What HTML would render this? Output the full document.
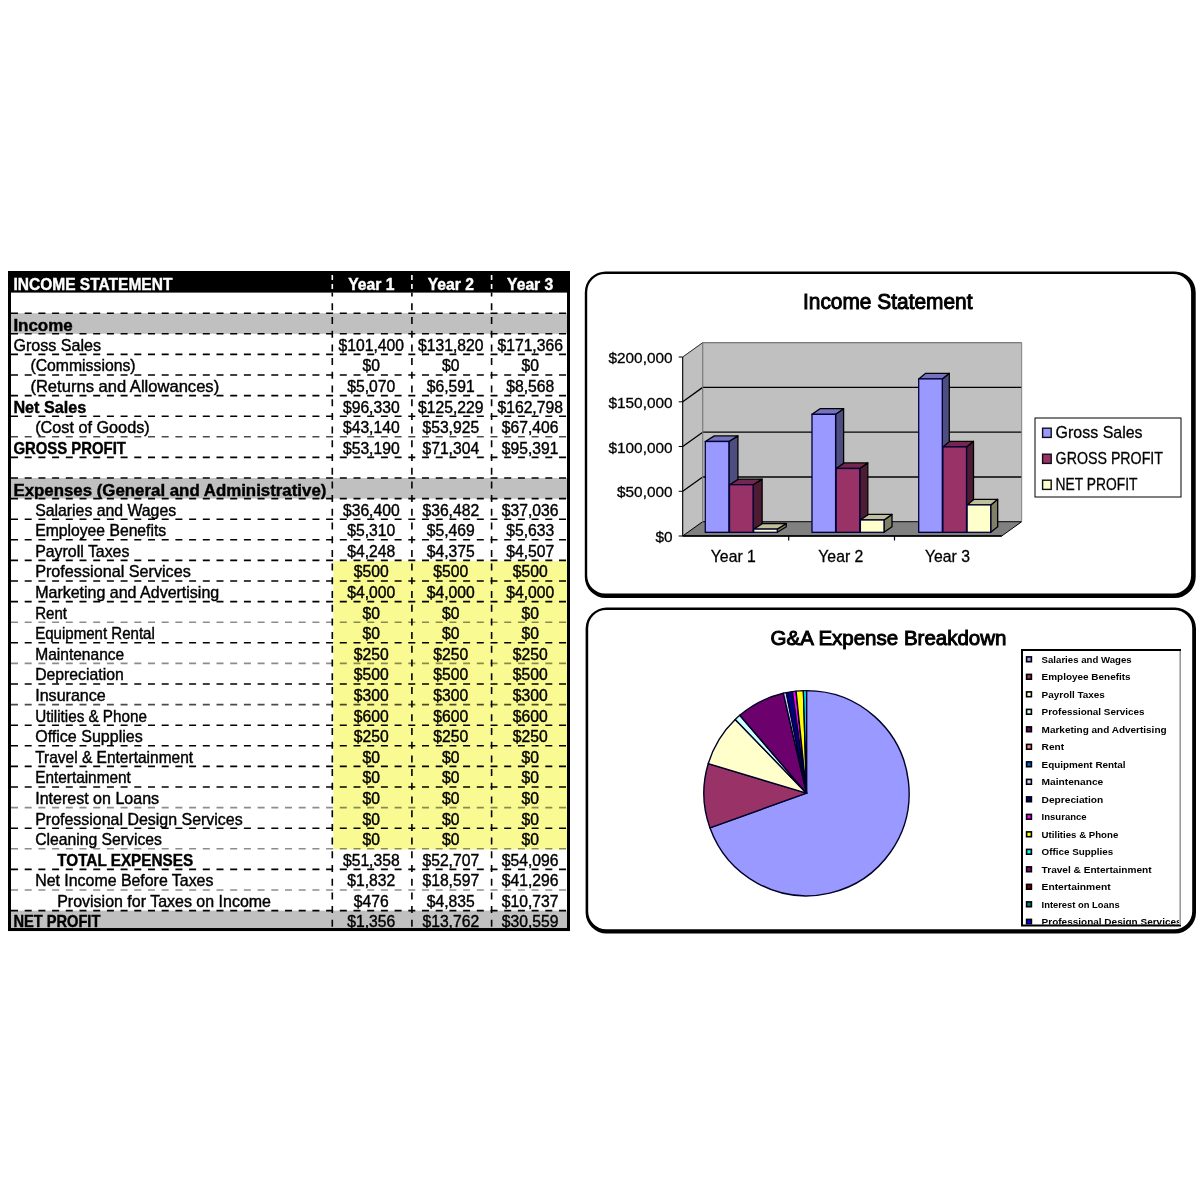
<!DOCTYPE html>
<html><head><meta charset="utf-8"><title>Income Statement</title>
<style>
html,body{margin:0;padding:0;background:#fff;}
svg{display:block;font-family:'Liberation Sans', Arial, sans-serif;}
</style></head><body>
<svg width="1200" height="1200" viewBox="0 0 1200 1200" font-family="Liberation Sans, Arial, sans-serif">
<defs><filter id="soft" x="0" y="0" width="1200" height="1200" filterUnits="userSpaceOnUse"><feGaussianBlur stdDeviation="0.55"/></filter></defs>
<rect x="0" y="0" width="1200" height="1200" fill="#fff"/>
<g filter="url(#soft)">
<rect x="8" y="271" width="562" height="660" fill="#fff"/>
<rect x="8" y="271" width="562" height="21.6" fill="#000"/>
<rect x="8" y="313.2" width="562" height="20.6" fill="#c0c0c0"/>
<rect x="8" y="478.0" width="562" height="20.6" fill="#c0c0c0"/>
<rect x="333.3" y="561.0" width="233.7" height="288.4" fill="#fafa92"/>
<rect x="8" y="910.6" width="562" height="20.6" fill="#c0c0c0"/>
<line x1="11" y1="313.2" x2="567" y2="313.2" stroke="#000" stroke-width="1.6" stroke-dasharray="7 6.7" stroke-opacity="1"/>
<line x1="11" y1="333.8" x2="567" y2="333.8" stroke="#000" stroke-width="1.6" stroke-dasharray="7 6.7" stroke-opacity="1"/>
<line x1="11" y1="354.4" x2="567" y2="354.4" stroke="#000" stroke-width="1.6" stroke-dasharray="7 6.7" stroke-opacity="1"/>
<line x1="11" y1="375.0" x2="567" y2="375.0" stroke="#000" stroke-width="1.6" stroke-dasharray="7 6.7" stroke-opacity="1"/>
<line x1="11" y1="395.6" x2="567" y2="395.6" stroke="#000" stroke-width="1.6" stroke-dasharray="7 6.7" stroke-opacity="1"/>
<line x1="11" y1="416.2" x2="567" y2="416.2" stroke="#000" stroke-width="1.6" stroke-dasharray="7 6.7" stroke-opacity="1"/>
<line x1="11" y1="436.8" x2="567" y2="436.8" stroke="#000" stroke-width="1.6" stroke-dasharray="7 6.7" stroke-opacity="0.7"/>
<line x1="11" y1="457.4" x2="567" y2="457.4" stroke="#000" stroke-width="1.6" stroke-dasharray="7 6.7" stroke-opacity="1"/>
<line x1="11" y1="478.0" x2="567" y2="478.0" stroke="#000" stroke-width="1.6" stroke-dasharray="7 6.7" stroke-opacity="1"/>
<line x1="11" y1="498.6" x2="567" y2="498.6" stroke="#000" stroke-width="1.6" stroke-dasharray="7 6.7" stroke-opacity="1"/>
<line x1="11" y1="519.2" x2="567" y2="519.2" stroke="#000" stroke-width="1.6" stroke-dasharray="7 6.7" stroke-opacity="1"/>
<line x1="11" y1="539.8" x2="567" y2="539.8" stroke="#000" stroke-width="1.6" stroke-dasharray="7 6.7" stroke-opacity="1"/>
<line x1="11" y1="560.4" x2="567" y2="560.4" stroke="#000" stroke-width="1.6" stroke-dasharray="7 6.7" stroke-opacity="1"/>
<line x1="11" y1="581.0" x2="567" y2="581.0" stroke="#000" stroke-width="1.6" stroke-dasharray="7 6.7" stroke-opacity="1"/>
<line x1="11" y1="601.6" x2="567" y2="601.6" stroke="#000" stroke-width="1.6" stroke-dasharray="7 6.7" stroke-opacity="1"/>
<line x1="11" y1="622.2" x2="567" y2="622.2" stroke="#000" stroke-width="1.6" stroke-dasharray="7 6.7" stroke-opacity="0.45"/>
<line x1="11" y1="642.8" x2="567" y2="642.8" stroke="#000" stroke-width="1.6" stroke-dasharray="7 6.7" stroke-opacity="1"/>
<line x1="11" y1="663.4" x2="567" y2="663.4" stroke="#000" stroke-width="1.6" stroke-dasharray="7 6.7" stroke-opacity="0.45"/>
<line x1="11" y1="684.0" x2="567" y2="684.0" stroke="#000" stroke-width="1.6" stroke-dasharray="7 6.7" stroke-opacity="1"/>
<line x1="11" y1="704.6" x2="567" y2="704.6" stroke="#000" stroke-width="1.6" stroke-dasharray="7 6.7" stroke-opacity="0.7"/>
<line x1="11" y1="725.2" x2="567" y2="725.2" stroke="#000" stroke-width="1.6" stroke-dasharray="7 6.7" stroke-opacity="1"/>
<line x1="11" y1="745.8" x2="567" y2="745.8" stroke="#000" stroke-width="1.6" stroke-dasharray="7 6.7" stroke-opacity="1"/>
<line x1="11" y1="766.4" x2="567" y2="766.4" stroke="#000" stroke-width="1.6" stroke-dasharray="7 6.7" stroke-opacity="1"/>
<line x1="11" y1="787.0" x2="567" y2="787.0" stroke="#000" stroke-width="1.6" stroke-dasharray="7 6.7" stroke-opacity="1"/>
<line x1="11" y1="807.6" x2="567" y2="807.6" stroke="#000" stroke-width="1.6" stroke-dasharray="7 6.7" stroke-opacity="0.45"/>
<line x1="11" y1="828.2" x2="567" y2="828.2" stroke="#000" stroke-width="1.6" stroke-dasharray="7 6.7" stroke-opacity="1"/>
<line x1="11" y1="848.8" x2="567" y2="848.8" stroke="#000" stroke-width="1.6" stroke-dasharray="7 6.7" stroke-opacity="0.45"/>
<line x1="11" y1="869.4" x2="567" y2="869.4" stroke="#000" stroke-width="1.6" stroke-dasharray="7 6.7" stroke-opacity="1"/>
<line x1="11" y1="890.0" x2="567" y2="890.0" stroke="#000" stroke-width="1.6" stroke-dasharray="7 6.7" stroke-opacity="0.45"/>
<line x1="11" y1="910.6" x2="567" y2="910.6" stroke="#000" stroke-width="1.6" stroke-dasharray="7 6.7" stroke-opacity="1"/>
<line x1="332.3" y1="292.6" x2="332.3" y2="929" stroke="#000" stroke-width="1.6" stroke-dasharray="7 6.7" stroke-dashoffset="3"/>
<line x1="332.3" y1="275" x2="332.3" y2="290.6" stroke="#fff" stroke-width="1.6" stroke-dasharray="5 4"/>
<line x1="411.9" y1="292.6" x2="411.9" y2="929" stroke="#000" stroke-width="1.6" stroke-dasharray="7 6.7" stroke-dashoffset="3"/>
<line x1="411.9" y1="275" x2="411.9" y2="290.6" stroke="#fff" stroke-width="1.6" stroke-dasharray="5 4"/>
<line x1="491.6" y1="292.6" x2="491.6" y2="929" stroke="#000" stroke-width="1.6" stroke-dasharray="7 6.7" stroke-dashoffset="3"/>
<line x1="491.6" y1="275" x2="491.6" y2="290.6" stroke="#fff" stroke-width="1.6" stroke-dasharray="5 4"/>
<rect x="9.5" y="272.5" width="559" height="657" fill="none" stroke="#000" stroke-width="3"/>
<text x="13.4" y="290.0" font-size="15.7" font-weight="bold" fill="#fff" stroke="#fff" stroke-width="0.4" textLength="159.0" lengthAdjust="spacingAndGlyphs">INCOME STATEMENT</text>
<text x="371.3" y="290.0" font-size="15.7" font-weight="bold" fill="#fff" stroke="#fff" stroke-width="0.4" text-anchor="middle">Year 1</text>
<text x="450.8" y="290.0" font-size="15.7" font-weight="bold" fill="#fff" stroke="#fff" stroke-width="0.4" text-anchor="middle">Year 2</text>
<text x="530.2" y="290.0" font-size="15.7" font-weight="bold" fill="#fff" stroke="#fff" stroke-width="0.4" text-anchor="middle">Year 3</text>
<text x="13.4" y="330.8" font-size="15.7" font-weight="bold" fill="#000" stroke="#000" stroke-width="0.4" textLength="59.3" lengthAdjust="spacingAndGlyphs">Income</text>
<text x="13.4" y="350.8" font-size="15.7" fill="#000" stroke="#000" stroke-width="0.4" textLength="87.6" lengthAdjust="spacingAndGlyphs">Gross Sales</text>
<text x="371.3" y="350.8" font-size="15.7" fill="#000" stroke="#000" stroke-width="0.4" text-anchor="middle">$101,400</text>
<text x="450.8" y="350.8" font-size="15.7" fill="#000" stroke="#000" stroke-width="0.4" text-anchor="middle">$131,820</text>
<text x="530.2" y="350.8" font-size="15.7" fill="#000" stroke="#000" stroke-width="0.4" text-anchor="middle">$171,366</text>
<text x="30.4" y="371.4" font-size="15.7" fill="#000" stroke="#000" stroke-width="0.4" textLength="105.2" lengthAdjust="spacingAndGlyphs">(Commissions)</text>
<text x="371.3" y="371.4" font-size="15.7" fill="#000" stroke="#000" stroke-width="0.4" text-anchor="middle">$0</text>
<text x="450.8" y="371.4" font-size="15.7" fill="#000" stroke="#000" stroke-width="0.4" text-anchor="middle">$0</text>
<text x="530.2" y="371.4" font-size="15.7" fill="#000" stroke="#000" stroke-width="0.4" text-anchor="middle">$0</text>
<text x="30.4" y="392.0" font-size="15.7" fill="#000" stroke="#000" stroke-width="0.4" textLength="188.8" lengthAdjust="spacingAndGlyphs">(Returns and Allowances)</text>
<text x="371.3" y="392.0" font-size="15.7" fill="#000" stroke="#000" stroke-width="0.4" text-anchor="middle">$5,070</text>
<text x="450.8" y="392.0" font-size="15.7" fill="#000" stroke="#000" stroke-width="0.4" text-anchor="middle">$6,591</text>
<text x="530.2" y="392.0" font-size="15.7" fill="#000" stroke="#000" stroke-width="0.4" text-anchor="middle">$8,568</text>
<text x="13.4" y="412.6" font-size="15.7" font-weight="bold" fill="#000" stroke="#000" stroke-width="0.4" textLength="72.9" lengthAdjust="spacingAndGlyphs">Net Sales</text>
<text x="371.3" y="412.6" font-size="15.7" fill="#000" stroke="#000" stroke-width="0.4" text-anchor="middle">$96,330</text>
<text x="450.8" y="412.6" font-size="15.7" fill="#000" stroke="#000" stroke-width="0.4" text-anchor="middle">$125,229</text>
<text x="530.2" y="412.6" font-size="15.7" fill="#000" stroke="#000" stroke-width="0.4" text-anchor="middle">$162,798</text>
<text x="35.2" y="433.2" font-size="15.7" fill="#000" stroke="#000" stroke-width="0.4" textLength="114.5" lengthAdjust="spacingAndGlyphs">(Cost of Goods)</text>
<text x="371.3" y="433.2" font-size="15.7" fill="#000" stroke="#000" stroke-width="0.4" text-anchor="middle">$43,140</text>
<text x="450.8" y="433.2" font-size="15.7" fill="#000" stroke="#000" stroke-width="0.4" text-anchor="middle">$53,925</text>
<text x="530.2" y="433.2" font-size="15.7" fill="#000" stroke="#000" stroke-width="0.4" text-anchor="middle">$67,406</text>
<text x="13.4" y="453.8" font-size="15.7" font-weight="bold" fill="#000" stroke="#000" stroke-width="0.4" textLength="112.5" lengthAdjust="spacingAndGlyphs">GROSS PROFIT</text>
<text x="371.3" y="453.8" font-size="15.7" fill="#000" stroke="#000" stroke-width="0.4" text-anchor="middle">$53,190</text>
<text x="450.8" y="453.8" font-size="15.7" fill="#000" stroke="#000" stroke-width="0.4" text-anchor="middle">$71,304</text>
<text x="530.2" y="453.8" font-size="15.7" fill="#000" stroke="#000" stroke-width="0.4" text-anchor="middle">$95,391</text>
<text x="13.4" y="495.6" font-size="15.7" font-weight="bold" fill="#000" stroke="#000" stroke-width="0.4" textLength="313.0" lengthAdjust="spacingAndGlyphs">Expenses (General and Administrative)</text>
<text x="35.2" y="515.6" font-size="15.7" fill="#000" stroke="#000" stroke-width="0.4" textLength="140.9" lengthAdjust="spacingAndGlyphs">Salaries and Wages</text>
<text x="371.3" y="515.6" font-size="15.7" fill="#000" stroke="#000" stroke-width="0.4" text-anchor="middle">$36,400</text>
<text x="450.8" y="515.6" font-size="15.7" fill="#000" stroke="#000" stroke-width="0.4" text-anchor="middle">$36,482</text>
<text x="530.2" y="515.6" font-size="15.7" fill="#000" stroke="#000" stroke-width="0.4" text-anchor="middle">$37,036</text>
<text x="35.2" y="536.2" font-size="15.7" fill="#000" stroke="#000" stroke-width="0.4" textLength="131.0" lengthAdjust="spacingAndGlyphs">Employee Benefits</text>
<text x="371.3" y="536.2" font-size="15.7" fill="#000" stroke="#000" stroke-width="0.4" text-anchor="middle">$5,310</text>
<text x="450.8" y="536.2" font-size="15.7" fill="#000" stroke="#000" stroke-width="0.4" text-anchor="middle">$5,469</text>
<text x="530.2" y="536.2" font-size="15.7" fill="#000" stroke="#000" stroke-width="0.4" text-anchor="middle">$5,633</text>
<text x="35.2" y="556.8" font-size="15.7" fill="#000" stroke="#000" stroke-width="0.4" textLength="94.2" lengthAdjust="spacingAndGlyphs">Payroll Taxes</text>
<text x="371.3" y="556.8" font-size="15.7" fill="#000" stroke="#000" stroke-width="0.4" text-anchor="middle">$4,248</text>
<text x="450.8" y="556.8" font-size="15.7" fill="#000" stroke="#000" stroke-width="0.4" text-anchor="middle">$4,375</text>
<text x="530.2" y="556.8" font-size="15.7" fill="#000" stroke="#000" stroke-width="0.4" text-anchor="middle">$4,507</text>
<text x="35.2" y="577.4" font-size="15.7" fill="#000" stroke="#000" stroke-width="0.4" textLength="155.6" lengthAdjust="spacingAndGlyphs">Professional Services</text>
<text x="371.3" y="577.4" font-size="15.7" fill="#000" stroke="#000" stroke-width="0.4" text-anchor="middle">$500</text>
<text x="450.8" y="577.4" font-size="15.7" fill="#000" stroke="#000" stroke-width="0.4" text-anchor="middle">$500</text>
<text x="530.2" y="577.4" font-size="15.7" fill="#000" stroke="#000" stroke-width="0.4" text-anchor="middle">$500</text>
<text x="35.2" y="598.0" font-size="15.7" fill="#000" stroke="#000" stroke-width="0.4" textLength="184.0" lengthAdjust="spacingAndGlyphs">Marketing and Advertising</text>
<text x="371.3" y="598.0" font-size="15.7" fill="#000" stroke="#000" stroke-width="0.4" text-anchor="middle">$4,000</text>
<text x="450.8" y="598.0" font-size="15.7" fill="#000" stroke="#000" stroke-width="0.4" text-anchor="middle">$4,000</text>
<text x="530.2" y="598.0" font-size="15.7" fill="#000" stroke="#000" stroke-width="0.4" text-anchor="middle">$4,000</text>
<text x="35.2" y="618.6" font-size="15.7" fill="#000" stroke="#000" stroke-width="0.4" textLength="31.8" lengthAdjust="spacingAndGlyphs">Rent</text>
<text x="371.3" y="618.6" font-size="15.7" fill="#000" stroke="#000" stroke-width="0.4" text-anchor="middle">$0</text>
<text x="450.8" y="618.6" font-size="15.7" fill="#000" stroke="#000" stroke-width="0.4" text-anchor="middle">$0</text>
<text x="530.2" y="618.6" font-size="15.7" fill="#000" stroke="#000" stroke-width="0.4" text-anchor="middle">$0</text>
<text x="35.2" y="639.2" font-size="15.7" fill="#000" stroke="#000" stroke-width="0.4" textLength="119.6" lengthAdjust="spacingAndGlyphs">Equipment Rental</text>
<text x="371.3" y="639.2" font-size="15.7" fill="#000" stroke="#000" stroke-width="0.4" text-anchor="middle">$0</text>
<text x="450.8" y="639.2" font-size="15.7" fill="#000" stroke="#000" stroke-width="0.4" text-anchor="middle">$0</text>
<text x="530.2" y="639.2" font-size="15.7" fill="#000" stroke="#000" stroke-width="0.4" text-anchor="middle">$0</text>
<text x="35.2" y="659.8" font-size="15.7" fill="#000" stroke="#000" stroke-width="0.4" textLength="89.0" lengthAdjust="spacingAndGlyphs">Maintenance</text>
<text x="371.3" y="659.8" font-size="15.7" fill="#000" stroke="#000" stroke-width="0.4" text-anchor="middle">$250</text>
<text x="450.8" y="659.8" font-size="15.7" fill="#000" stroke="#000" stroke-width="0.4" text-anchor="middle">$250</text>
<text x="530.2" y="659.8" font-size="15.7" fill="#000" stroke="#000" stroke-width="0.4" text-anchor="middle">$250</text>
<text x="35.2" y="680.4" font-size="15.7" fill="#000" stroke="#000" stroke-width="0.4" textLength="88.5" lengthAdjust="spacingAndGlyphs">Depreciation</text>
<text x="371.3" y="680.4" font-size="15.7" fill="#000" stroke="#000" stroke-width="0.4" text-anchor="middle">$500</text>
<text x="450.8" y="680.4" font-size="15.7" fill="#000" stroke="#000" stroke-width="0.4" text-anchor="middle">$500</text>
<text x="530.2" y="680.4" font-size="15.7" fill="#000" stroke="#000" stroke-width="0.4" text-anchor="middle">$500</text>
<text x="35.2" y="701.0" font-size="15.7" fill="#000" stroke="#000" stroke-width="0.4" textLength="70.6" lengthAdjust="spacingAndGlyphs">Insurance</text>
<text x="371.3" y="701.0" font-size="15.7" fill="#000" stroke="#000" stroke-width="0.4" text-anchor="middle">$300</text>
<text x="450.8" y="701.0" font-size="15.7" fill="#000" stroke="#000" stroke-width="0.4" text-anchor="middle">$300</text>
<text x="530.2" y="701.0" font-size="15.7" fill="#000" stroke="#000" stroke-width="0.4" text-anchor="middle">$300</text>
<text x="35.2" y="721.6" font-size="15.7" fill="#000" stroke="#000" stroke-width="0.4" textLength="111.7" lengthAdjust="spacingAndGlyphs">Utilities &amp; Phone</text>
<text x="371.3" y="721.6" font-size="15.7" fill="#000" stroke="#000" stroke-width="0.4" text-anchor="middle">$600</text>
<text x="450.8" y="721.6" font-size="15.7" fill="#000" stroke="#000" stroke-width="0.4" text-anchor="middle">$600</text>
<text x="530.2" y="721.6" font-size="15.7" fill="#000" stroke="#000" stroke-width="0.4" text-anchor="middle">$600</text>
<text x="35.2" y="742.2" font-size="15.7" fill="#000" stroke="#000" stroke-width="0.4" textLength="107.5" lengthAdjust="spacingAndGlyphs">Office Supplies</text>
<text x="371.3" y="742.2" font-size="15.7" fill="#000" stroke="#000" stroke-width="0.4" text-anchor="middle">$250</text>
<text x="450.8" y="742.2" font-size="15.7" fill="#000" stroke="#000" stroke-width="0.4" text-anchor="middle">$250</text>
<text x="530.2" y="742.2" font-size="15.7" fill="#000" stroke="#000" stroke-width="0.4" text-anchor="middle">$250</text>
<text x="35.2" y="762.8" font-size="15.7" fill="#000" stroke="#000" stroke-width="0.4" textLength="157.9" lengthAdjust="spacingAndGlyphs">Travel &amp; Entertainment</text>
<text x="371.3" y="762.8" font-size="15.7" fill="#000" stroke="#000" stroke-width="0.4" text-anchor="middle">$0</text>
<text x="450.8" y="762.8" font-size="15.7" fill="#000" stroke="#000" stroke-width="0.4" text-anchor="middle">$0</text>
<text x="530.2" y="762.8" font-size="15.7" fill="#000" stroke="#000" stroke-width="0.4" text-anchor="middle">$0</text>
<text x="35.2" y="783.4" font-size="15.7" fill="#000" stroke="#000" stroke-width="0.4" textLength="95.6" lengthAdjust="spacingAndGlyphs">Entertainment</text>
<text x="371.3" y="783.4" font-size="15.7" fill="#000" stroke="#000" stroke-width="0.4" text-anchor="middle">$0</text>
<text x="450.8" y="783.4" font-size="15.7" fill="#000" stroke="#000" stroke-width="0.4" text-anchor="middle">$0</text>
<text x="530.2" y="783.4" font-size="15.7" fill="#000" stroke="#000" stroke-width="0.4" text-anchor="middle">$0</text>
<text x="35.2" y="804.0" font-size="15.7" fill="#000" stroke="#000" stroke-width="0.4" textLength="123.9" lengthAdjust="spacingAndGlyphs">Interest on Loans</text>
<text x="371.3" y="804.0" font-size="15.7" fill="#000" stroke="#000" stroke-width="0.4" text-anchor="middle">$0</text>
<text x="450.8" y="804.0" font-size="15.7" fill="#000" stroke="#000" stroke-width="0.4" text-anchor="middle">$0</text>
<text x="530.2" y="804.0" font-size="15.7" fill="#000" stroke="#000" stroke-width="0.4" text-anchor="middle">$0</text>
<text x="35.2" y="824.6" font-size="15.7" fill="#000" stroke="#000" stroke-width="0.4" textLength="207.5" lengthAdjust="spacingAndGlyphs">Professional Design Services</text>
<text x="371.3" y="824.6" font-size="15.7" fill="#000" stroke="#000" stroke-width="0.4" text-anchor="middle">$0</text>
<text x="450.8" y="824.6" font-size="15.7" fill="#000" stroke="#000" stroke-width="0.4" text-anchor="middle">$0</text>
<text x="530.2" y="824.6" font-size="15.7" fill="#000" stroke="#000" stroke-width="0.4" text-anchor="middle">$0</text>
<text x="35.2" y="845.2" font-size="15.7" fill="#000" stroke="#000" stroke-width="0.4" textLength="126.7" lengthAdjust="spacingAndGlyphs">Cleaning Services</text>
<text x="371.3" y="845.2" font-size="15.7" fill="#000" stroke="#000" stroke-width="0.4" text-anchor="middle">$0</text>
<text x="450.8" y="845.2" font-size="15.7" fill="#000" stroke="#000" stroke-width="0.4" text-anchor="middle">$0</text>
<text x="530.2" y="845.2" font-size="15.7" fill="#000" stroke="#000" stroke-width="0.4" text-anchor="middle">$0</text>
<text x="57.2" y="865.8" font-size="15.7" font-weight="bold" fill="#000" stroke="#000" stroke-width="0.4" textLength="135.9" lengthAdjust="spacingAndGlyphs">TOTAL EXPENSES</text>
<text x="371.3" y="865.8" font-size="15.7" fill="#000" stroke="#000" stroke-width="0.4" text-anchor="middle">$51,358</text>
<text x="450.8" y="865.8" font-size="15.7" fill="#000" stroke="#000" stroke-width="0.4" text-anchor="middle">$52,707</text>
<text x="530.2" y="865.8" font-size="15.7" fill="#000" stroke="#000" stroke-width="0.4" text-anchor="middle">$54,096</text>
<text x="35.2" y="886.4" font-size="15.7" fill="#000" stroke="#000" stroke-width="0.4" textLength="178.2" lengthAdjust="spacingAndGlyphs">Net Income Before Taxes</text>
<text x="371.3" y="886.4" font-size="15.7" fill="#000" stroke="#000" stroke-width="0.4" text-anchor="middle">$1,832</text>
<text x="450.8" y="886.4" font-size="15.7" fill="#000" stroke="#000" stroke-width="0.4" text-anchor="middle">$18,597</text>
<text x="530.2" y="886.4" font-size="15.7" fill="#000" stroke="#000" stroke-width="0.4" text-anchor="middle">$41,296</text>
<text x="57.2" y="907.0" font-size="15.7" fill="#000" stroke="#000" stroke-width="0.4" textLength="213.8" lengthAdjust="spacingAndGlyphs">Provision for Taxes on Income</text>
<text x="371.3" y="907.0" font-size="15.7" fill="#000" stroke="#000" stroke-width="0.4" text-anchor="middle">$476</text>
<text x="450.8" y="907.0" font-size="15.7" fill="#000" stroke="#000" stroke-width="0.4" text-anchor="middle">$4,835</text>
<text x="530.2" y="907.0" font-size="15.7" fill="#000" stroke="#000" stroke-width="0.4" text-anchor="middle">$10,737</text>
<text x="13.4" y="927.0" font-size="15.7" font-weight="bold" fill="#000" stroke="#000" stroke-width="0.4" textLength="87.0" lengthAdjust="spacingAndGlyphs">NET PROFIT</text>
<text x="371.3" y="927.0" font-size="15.7" fill="#000" stroke="#000" stroke-width="0.4" text-anchor="middle">$1,356</text>
<text x="450.8" y="927.0" font-size="15.7" fill="#000" stroke="#000" stroke-width="0.4" text-anchor="middle">$13,762</text>
<text x="530.2" y="927.0" font-size="15.7" fill="#000" stroke="#000" stroke-width="0.4" text-anchor="middle">$30,559</text>
<path d="M605.8,271.4 H1174.7 A21,21 0 0 1 1195.7,292.4 V577 A21,21 0 0 1 1174.7,598 H605.8 A21,21 0 0 1 584.8,577 V292.4 A21,21 0 0 1 605.8,271.4 Z M605.1999999999999,273.9 H1173.1000000000001 A18,18 0 0 1 1191.1000000000001,291.9 V575.6 A18,18 0 0 1 1173.1000000000001,593.6 H605.1999999999999 A18,18 0 0 1 587.1999999999999,575.6 V291.9 A18,18 0 0 1 605.1999999999999,273.9 Z" fill="#000" fill-rule="evenodd"/>
<path d="M606.6,607.6 H1175 A21,21 0 0 1 1196,628.6 V912.5 A21,21 0 0 1 1175,933.5 H606.6 A21,21 0 0 1 585.6,912.5 V628.6 A21,21 0 0 1 606.6,607.6 Z M606.2,609.9 H1174.2 A18,18 0 0 1 1192.2,627.9 V911.3 A18,18 0 0 1 1174.2,929.3 H606.2 A18,18 0 0 1 588.2,911.3 V627.9 A18,18 0 0 1 606.2,609.9 Z" fill="#000" fill-rule="evenodd"/>
<text x="803" y="309.3" font-size="22" stroke="#000" stroke-width="1.0" textLength="169.5" lengthAdjust="spacingAndGlyphs">Income Statement</text>
<rect x="702.7" y="342.7" width="319.0" height="179.00000000000006" fill="#c0c0c0"/>
<polygon points="702.7,342.7 682.7,357.0 682.7,536.0 702.7,521.7" fill="#c0c0c0" stroke="#808080" stroke-width="1"/>
<polygon points="702.7,521.7 1021.7,521.7 1001.7,536.0 682.7,536.0" fill="#808080" stroke="#000" stroke-width="1"/>
<line x1="702.7" y1="342.7" x2="1021.7" y2="342.7" stroke="#000" stroke-width="0.6"/>
<line x1="702.7" y1="342.7" x2="682.7" y2="357.0" stroke="#000" stroke-width="0.6"/>
<line x1="682.7" y1="357.0" x2="678.7" y2="357.0" stroke="#000" stroke-width="1"/>
<line x1="702.7" y1="387.4" x2="1021.7" y2="387.4" stroke="#000" stroke-width="1.3"/>
<line x1="702.7" y1="387.4" x2="682.7" y2="401.8" stroke="#000" stroke-width="1.3"/>
<line x1="682.7" y1="401.8" x2="678.7" y2="401.8" stroke="#000" stroke-width="1"/>
<line x1="702.7" y1="432.2" x2="1021.7" y2="432.2" stroke="#000" stroke-width="1.3"/>
<line x1="702.7" y1="432.2" x2="682.7" y2="446.5" stroke="#000" stroke-width="1.3"/>
<line x1="682.7" y1="446.5" x2="678.7" y2="446.5" stroke="#000" stroke-width="1"/>
<line x1="702.7" y1="477.0" x2="1021.7" y2="477.0" stroke="#000" stroke-width="1.3"/>
<line x1="702.7" y1="477.0" x2="682.7" y2="491.3" stroke="#000" stroke-width="1.3"/>
<line x1="682.7" y1="491.3" x2="678.7" y2="491.3" stroke="#000" stroke-width="1"/>
<line x1="682.7" y1="536.0" x2="678.7" y2="536.0" stroke="#000" stroke-width="1"/>
<line x1="702.7" y1="342.7" x2="702.7" y2="521.7" stroke="#808080" stroke-width="1"/>
<line x1="1021.7" y1="342.7" x2="1021.7" y2="521.7" stroke="#808080" stroke-width="1"/>
<line x1="682.7" y1="357.0" x2="682.7" y2="536.0" stroke="#000" stroke-width="1"/>
<line x1="682.7" y1="536.0" x2="1001.7" y2="536.0" stroke="#000" stroke-width="1.5"/>
<text x="672.6" y="363.0" font-size="15.4" stroke="#000" stroke-width="0.3" text-anchor="end">$200,000</text>
<text x="672.6" y="407.8" font-size="15.4" stroke="#000" stroke-width="0.3" text-anchor="end">$150,000</text>
<text x="672.6" y="452.5" font-size="15.4" stroke="#000" stroke-width="0.3" text-anchor="end">$100,000</text>
<text x="672.6" y="497.3" font-size="15.4" stroke="#000" stroke-width="0.3" text-anchor="end">$50,000</text>
<text x="672.6" y="542.0" font-size="15.4" stroke="#000" stroke-width="0.3" text-anchor="end">$0</text>
<polygon points="728.9,441.5 737.9,435.9 737.9,526.6999999999999 728.9,532.3" fill="#4d4d80" stroke="#000" stroke-width="1.3" stroke-linejoin="round"/>
<polygon points="705.3,441.5 714.3,435.9 737.9,435.9 728.9,441.5" fill="#7373bf" stroke="#000" stroke-width="1.3" stroke-linejoin="round"/>
<rect x="705.3" y="441.5" width="23.600000000000023" height="90.8" fill="#9999ff" stroke="#00003a" stroke-width="1.3"/>
<polygon points="753.1,484.7 762.1,479.1 762.1,526.6999999999999 753.1,532.3" fill="#4d1a33" stroke="#000" stroke-width="1.3" stroke-linejoin="round"/>
<polygon points="729.5,484.7 738.5,479.1 762.1,479.1 753.1,484.7" fill="#732650" stroke="#000" stroke-width="1.3" stroke-linejoin="round"/>
<rect x="729.5" y="484.7" width="23.600000000000023" height="47.6" fill="#993366" stroke="#00003a" stroke-width="1.3"/>
<polygon points="777.3,529.1 786.3,523.5 786.3,526.6999999999999 777.3,532.3" fill="#808066" stroke="#000" stroke-width="1.3" stroke-linejoin="round"/>
<polygon points="753.6999999999999,529.1 762.6999999999999,523.5 786.3,523.5 777.3,529.1" fill="#bfbf99" stroke="#000" stroke-width="1.3" stroke-linejoin="round"/>
<rect x="753.6999999999999" y="529.1" width="23.600000000000023" height="3.2" fill="#ffffcc" stroke="#00003a" stroke-width="1.3"/>
<polygon points="835.6,414.3 843.6,408.7 843.6,526.6999999999999 835.6,532.3" fill="#4d4d80" stroke="#000" stroke-width="1.3" stroke-linejoin="round"/>
<polygon points="812.0,414.3 820.0,408.7 843.6,408.7 835.6,414.3" fill="#7373bf" stroke="#000" stroke-width="1.3" stroke-linejoin="round"/>
<rect x="812.0" y="414.3" width="23.600000000000023" height="118.0" fill="#9999ff" stroke="#00003a" stroke-width="1.3"/>
<polygon points="859.8000000000001,468.5 867.8000000000001,462.9 867.8000000000001,526.6999999999999 859.8000000000001,532.3" fill="#4d1a33" stroke="#000" stroke-width="1.3" stroke-linejoin="round"/>
<polygon points="836.2,468.5 844.2,462.9 867.8000000000001,462.9 859.8000000000001,468.5" fill="#732650" stroke="#000" stroke-width="1.3" stroke-linejoin="round"/>
<rect x="836.2" y="468.5" width="23.600000000000023" height="63.8" fill="#993366" stroke="#00003a" stroke-width="1.3"/>
<polygon points="884.0,520.0 892.0,514.4 892.0,526.6999999999999 884.0,532.3" fill="#808066" stroke="#000" stroke-width="1.3" stroke-linejoin="round"/>
<polygon points="860.4,520.0 868.4,514.4 892.0,514.4 884.0,520.0" fill="#bfbf99" stroke="#000" stroke-width="1.3" stroke-linejoin="round"/>
<rect x="860.4" y="520.0" width="23.600000000000023" height="12.3" fill="#ffffcc" stroke="#00003a" stroke-width="1.3"/>
<polygon points="942.3000000000001,378.9 949.3000000000001,373.3 949.3000000000001,526.6999999999999 942.3000000000001,532.3" fill="#4d4d80" stroke="#000" stroke-width="1.3" stroke-linejoin="round"/>
<polygon points="918.7,378.9 925.7,373.3 949.3000000000001,373.3 942.3000000000001,378.9" fill="#7373bf" stroke="#000" stroke-width="1.3" stroke-linejoin="round"/>
<rect x="918.7" y="378.9" width="23.600000000000023" height="153.4" fill="#9999ff" stroke="#00003a" stroke-width="1.3"/>
<polygon points="966.5000000000001,446.9 973.5000000000001,441.3 973.5000000000001,526.6999999999999 966.5000000000001,532.3" fill="#4d1a33" stroke="#000" stroke-width="1.3" stroke-linejoin="round"/>
<polygon points="942.9000000000001,446.9 949.9000000000001,441.3 973.5000000000001,441.3 966.5000000000001,446.9" fill="#732650" stroke="#000" stroke-width="1.3" stroke-linejoin="round"/>
<rect x="942.9000000000001" y="446.9" width="23.600000000000023" height="85.4" fill="#993366" stroke="#00003a" stroke-width="1.3"/>
<polygon points="990.7,504.9 997.7,499.3 997.7,526.6999999999999 990.7,532.3" fill="#808066" stroke="#000" stroke-width="1.3" stroke-linejoin="round"/>
<polygon points="967.1,504.9 974.1,499.3 997.7,499.3 990.7,504.9" fill="#bfbf99" stroke="#000" stroke-width="1.3" stroke-linejoin="round"/>
<rect x="967.1" y="504.9" width="23.600000000000023" height="27.4" fill="#ffffcc" stroke="#00003a" stroke-width="1.3"/>
<line x1="788.7" y1="536" x2="788.7" y2="540.5" stroke="#000" stroke-width="1.2"/>
<line x1="894.5" y1="536" x2="894.5" y2="540.5" stroke="#000" stroke-width="1.2"/>
<text x="710.8" y="562" font-size="16.4" stroke="#000" stroke-width="0.3" textLength="45" lengthAdjust="spacingAndGlyphs">Year 1</text>
<text x="818.3" y="562" font-size="16.4" stroke="#000" stroke-width="0.3" textLength="45" lengthAdjust="spacingAndGlyphs">Year 2</text>
<text x="925" y="562" font-size="16.4" stroke="#000" stroke-width="0.3" textLength="45" lengthAdjust="spacingAndGlyphs">Year 3</text>
<rect x="1035" y="418" width="146" height="79" fill="#fff" stroke="#000" stroke-width="1"/>
<rect x="1042.6" y="428.2" width="8.6" height="9.2" fill="#9999ff" stroke="#111" stroke-width="1.4"/>
<text x="1055.6" y="438.2" font-size="16.6" stroke="#000" stroke-width="0.3" textLength="87" lengthAdjust="spacingAndGlyphs">Gross Sales</text>
<rect x="1042.6" y="454.2" width="8.6" height="9.2" fill="#993366" stroke="#111" stroke-width="1.4"/>
<text x="1055.6" y="464.2" font-size="16.6" stroke="#000" stroke-width="0.3" textLength="107.4" lengthAdjust="spacingAndGlyphs">GROSS PROFIT</text>
<rect x="1042.6" y="480.2" width="8.6" height="9.2" fill="#ffffcc" stroke="#111" stroke-width="1.4"/>
<text x="1055.6" y="490.2" font-size="16.6" stroke="#000" stroke-width="0.3" textLength="81.8" lengthAdjust="spacingAndGlyphs">NET PROFIT</text>
<text x="770.5" y="645.3" font-size="21" stroke="#000" stroke-width="1.0" textLength="236" lengthAdjust="spacingAndGlyphs">G&amp;A Expense Breakdown</text>
<path d="M806.5,793.2 L806.50,690.60 A102.6,102.6 0 1 1 709.92,827.82 Z" fill="#9999ff" stroke="#000028" stroke-width="1.4" stroke-linejoin="round"/>
<path d="M806.5,793.2 L709.92,827.82 A102.6,102.6 0 0 1 708.27,763.57 Z" fill="#993366" stroke="#000028" stroke-width="1.4" stroke-linejoin="round"/>
<path d="M806.5,793.2 L708.27,763.57 A102.6,102.6 0 0 1 735.22,719.40 Z" fill="#ffffcc" stroke="#000028" stroke-width="1.4" stroke-linejoin="round"/>
<path d="M806.5,793.2 L735.22,719.40 A102.6,102.6 0 0 1 739.78,715.26 Z" fill="#ccffff" stroke="#000028" stroke-width="1.4" stroke-linejoin="round"/>
<path d="M806.5,793.2 L739.78,715.26 A102.6,102.6 0 0 1 783.31,693.26 Z" fill="#6c066c" stroke="#000028" stroke-width="1.4" stroke-linejoin="round"/>
<path d="M806.5,793.2 L783.31,693.26 A102.6,102.6 0 0 1 786.32,692.60 Z" fill="#ccccff" stroke="#000028" stroke-width="1.4" stroke-linejoin="round"/>
<path d="M806.5,793.2 L786.32,692.60 A102.6,102.6 0 0 1 792.39,691.58 Z" fill="#000080" stroke="#000028" stroke-width="1.4" stroke-linejoin="round"/>
<path d="M806.5,793.2 L792.39,691.58 A102.6,102.6 0 0 1 796.05,691.13 Z" fill="#ff00ff" stroke="#000028" stroke-width="1.4" stroke-linejoin="round"/>
<path d="M806.5,793.2 L796.05,691.13 A102.6,102.6 0 0 1 803.42,690.65 Z" fill="#ffff00" stroke="#000028" stroke-width="1.4" stroke-linejoin="round"/>
<path d="M806.5,793.2 L803.42,690.65 A102.6,102.6 0 0 1 806.50,690.60 Z" fill="#00ffff" stroke="#000028" stroke-width="1.4" stroke-linejoin="round"/>
<rect x="1021" y="649" width="160" height="277.5" fill="#fff"/>
<path d="M1181,650 H1022 V925.6 H1181" fill="none" stroke="#000" stroke-width="2"/>
<line x1="1180.2" y1="651" x2="1180.2" y2="924.6" stroke="#999" stroke-width="1.6"/>
<clipPath id="lc"><rect x="1023" y="651" width="156" height="273.6"/></clipPath><g clip-path="url(#lc)">
<rect x="1026.6" y="656.9" width="4.8" height="4.8" fill="#9999ff" stroke="#000" stroke-width="1.6"/>
<text x="1041.6" y="662.7" font-size="9.6" font-weight="bold" textLength="90" lengthAdjust="spacingAndGlyphs">Salaries and Wages</text>
<rect x="1026.6" y="674.4" width="4.8" height="4.8" fill="#993366" stroke="#000" stroke-width="1.6"/>
<text x="1041.6" y="680.2" font-size="9.6" font-weight="bold" textLength="89" lengthAdjust="spacingAndGlyphs">Employee Benefits</text>
<rect x="1026.6" y="691.9" width="4.8" height="4.8" fill="#ffffcc" stroke="#000" stroke-width="1.6"/>
<text x="1041.6" y="697.7" font-size="9.6" font-weight="bold" textLength="63.3" lengthAdjust="spacingAndGlyphs">Payroll Taxes</text>
<rect x="1026.6" y="709.4" width="4.8" height="4.8" fill="#ccffff" stroke="#000" stroke-width="1.6"/>
<text x="1041.6" y="715.2" font-size="9.6" font-weight="bold" textLength="103" lengthAdjust="spacingAndGlyphs">Professional Services</text>
<rect x="1026.6" y="726.9" width="4.8" height="4.8" fill="#6c066c" stroke="#000" stroke-width="1.6"/>
<text x="1041.6" y="732.7" font-size="9.6" font-weight="bold" textLength="125" lengthAdjust="spacingAndGlyphs">Marketing and Advertising</text>
<rect x="1026.6" y="744.4" width="4.8" height="4.8" fill="#ff8080" stroke="#000" stroke-width="1.6"/>
<text x="1041.6" y="750.2" font-size="9.6" font-weight="bold" textLength="22.5" lengthAdjust="spacingAndGlyphs">Rent</text>
<rect x="1026.6" y="761.9" width="4.8" height="4.8" fill="#0066cc" stroke="#000" stroke-width="1.6"/>
<text x="1041.6" y="767.7" font-size="9.6" font-weight="bold" textLength="84" lengthAdjust="spacingAndGlyphs">Equipment Rental</text>
<rect x="1026.6" y="779.4" width="4.8" height="4.8" fill="#ccccff" stroke="#000" stroke-width="1.6"/>
<text x="1041.6" y="785.2" font-size="9.6" font-weight="bold" textLength="61.7" lengthAdjust="spacingAndGlyphs">Maintenance</text>
<rect x="1026.6" y="796.9" width="4.8" height="4.8" fill="#000080" stroke="#000" stroke-width="1.6"/>
<text x="1041.6" y="802.7" font-size="9.6" font-weight="bold" textLength="61.7" lengthAdjust="spacingAndGlyphs">Depreciation</text>
<rect x="1026.6" y="814.4" width="4.8" height="4.8" fill="#ff00ff" stroke="#000" stroke-width="1.6"/>
<text x="1041.6" y="820.2" font-size="9.6" font-weight="bold" textLength="45" lengthAdjust="spacingAndGlyphs">Insurance</text>
<rect x="1026.6" y="831.9" width="4.8" height="4.8" fill="#ffff00" stroke="#000" stroke-width="1.6"/>
<text x="1041.6" y="837.7" font-size="9.6" font-weight="bold" textLength="76.7" lengthAdjust="spacingAndGlyphs">Utilities &amp; Phone</text>
<rect x="1026.6" y="849.4" width="4.8" height="4.8" fill="#00ffff" stroke="#000" stroke-width="1.6"/>
<text x="1041.6" y="855.2" font-size="9.6" font-weight="bold" textLength="71.7" lengthAdjust="spacingAndGlyphs">Office Supplies</text>
<rect x="1026.6" y="866.9" width="4.8" height="4.8" fill="#800080" stroke="#000" stroke-width="1.6"/>
<text x="1041.6" y="872.7" font-size="9.6" font-weight="bold" textLength="110" lengthAdjust="spacingAndGlyphs">Travel &amp; Entertainment</text>
<rect x="1026.6" y="884.4" width="4.8" height="4.8" fill="#800000" stroke="#000" stroke-width="1.6"/>
<text x="1041.6" y="890.2" font-size="9.6" font-weight="bold" textLength="69" lengthAdjust="spacingAndGlyphs">Entertainment</text>
<rect x="1026.6" y="901.9" width="4.8" height="4.8" fill="#008080" stroke="#000" stroke-width="1.6"/>
<text x="1041.6" y="907.7" font-size="9.6" font-weight="bold" textLength="78" lengthAdjust="spacingAndGlyphs">Interest on Loans</text>
<rect x="1026.6" y="919.4" width="4.8" height="4.8" fill="#0000ff" stroke="#000" stroke-width="1.6"/>
<text x="1041.6" y="925.2" font-size="9.6" font-weight="bold" textLength="140" lengthAdjust="spacingAndGlyphs">Professional Design Services</text>
</g>
</g>
</svg>
</body></html>
